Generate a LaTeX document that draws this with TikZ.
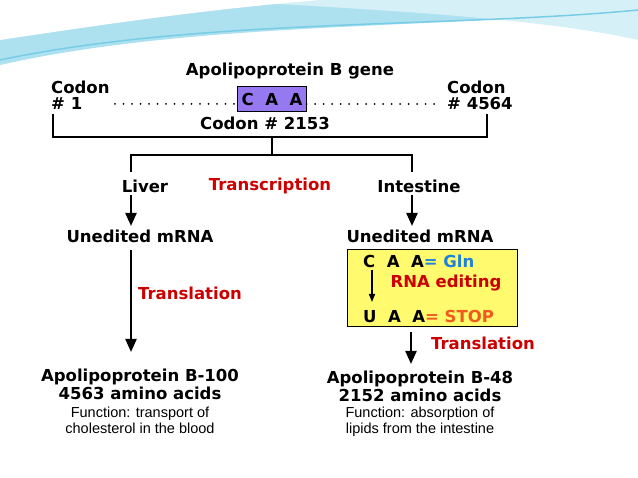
\documentclass[tikz,border=0pt]{standalone}
\usepackage{fontspec}
\setmainfont{Liberation Sans}
\newfontfamily\boldsans{DejaVu Sans}
\usetikzlibrary{arrows.meta,positioning}
\definecolor{boxpurple}{RGB}{150,120,240}
\definecolor{boxyellow}{RGB}{255,250,110}
\definecolor{wave}{RGB}{120,205,230}
\definecolor{glnblue}{RGB}{30,130,220}
\definecolor{stoporange}{RGB}{240,90,30}
\begin{document}
\begin{tikzpicture}[x=1pt, y=-1pt,
    big/.style={font=\boldsans\fontsize{16.5}{17}\selectfont\bfseries, inner sep=1pt},
    red_lbl/.style={big, text=red!80!black},
    small/.style={font=\fontsize{14.5}{17}\selectfont, inner sep=1pt},
    line/.style={line width=2.2pt},
    arrow/.style={line width=2.2pt, -{Triangle[width=11pt,length=13pt]}}
]
\useasboundingbox (0,0) rectangle (638,478);

% waves at the top
\fill[wave!60] (0,0) -- (638,0) -- (638,8) .. controls (450,30) and (200,20) .. (0,65) -- cycle;
\fill[wave!30] (200,0) -- (638,0) -- (638,40) .. controls (550,20) and (400,10) .. (200,0) -- cycle;
\fill[white] (0,0) -- (320,0) .. controls (200,10) and (100,25) .. (0,40) -- cycle;
\draw[wave, line width=1.5pt] (0,60) .. controls (200,18) and (450,28) .. (638,10);

% gene
\node[big] (title) at (290,71) {Apolipoprotein B gene};
\node[big, align=left, anchor=west] (c1) at (50,95) {Codon\\[-1pt]\# 1};
\node[big, align=left, anchor=west] (c4564) at (446,95) {Codon\\[-1pt]\# 4564};
\node[big, draw=black, fill=boxpurple, minimum width=69pt, minimum height=25pt] (caa) at (272,99) {C~~A~~A};
\node[big] (c2153) at (265,123) {Codon \# 2153};
\draw[line width=2pt, line cap=round, dash pattern=on 0pt off 8.5pt] (115,104) -- (caa.west |- 0,104);
\draw[line width=2pt, line cap=round, dash pattern=on 0pt off 8.5pt] (caa.east |- 0,104) -- (440,104);

% brackets
\coordinate (bl) at (53,114);
\coordinate (br) at (487,114);
\coordinate (stem) at (272,137);
\draw[line] (bl) -- (53,137) -- (487,137) -- (br);
\draw[line] (stem) -- (272,155);
\draw[line] (131,172) -- (131,155) -- (412,155) -- (412,172);

\node[big] (liver) at (145,186) {Liver};
\node[red_lbl] (transcr) at (270,186) {Transcription};
\node[big] (intest) at (419,186) {Intestine};

% left branch
\node[big] (mrnaL) at (140,236) {Unedited mRNA};
\draw[arrow] (131,195) -- (131,226);
\draw[arrow] (131,250) -- (131,352);
\node[red_lbl] (transL) at (190,293) {Translation};
\node[big, align=center] (b100) at (140,384) {Apolipoprotein B-100\\[1pt]4563 amino acids};
\node[small, align=center] (fL) at (140,420) {Function: transport of\\[-1pt]cholesterol in the blood};

% right branch
\node[big] (mrnaR) at (420,236) {Unedited mRNA};
\draw[arrow] (412,195) -- (412,226);
\node[draw=black, line width=1pt, fill=boxyellow, minimum width=170pt, minimum height=77pt] (edit) at (432,288.5) {};
\node[big, anchor=west] (caa2) at (362,261) {C~~A~~A\textcolor{glnblue}{= Gln}};
\node[big, anchor=west] (uaa) at (362,316) {U~~A~~A\textcolor{stoporange}{= STOP}};
\draw[line width=1.5pt, -{Triangle[width=6pt,length=8pt]}] (372,270) -- (372,302);
\node[red_lbl] (rnaed) at (446,283) {RNA editing};
\draw[arrow] (411,332) -- (411,364);
\node[red_lbl] (transR) at (483,343) {Translation};
\node[big, align=center] (b48) at (420,386) {Apolipoprotein B-48\\[1pt]2152 amino acids};
\node[small, align=center] (fR) at (420,422) {Function: absorption of\\[-1pt]lipids from the intestine};
\end{tikzpicture}
\end{document}
